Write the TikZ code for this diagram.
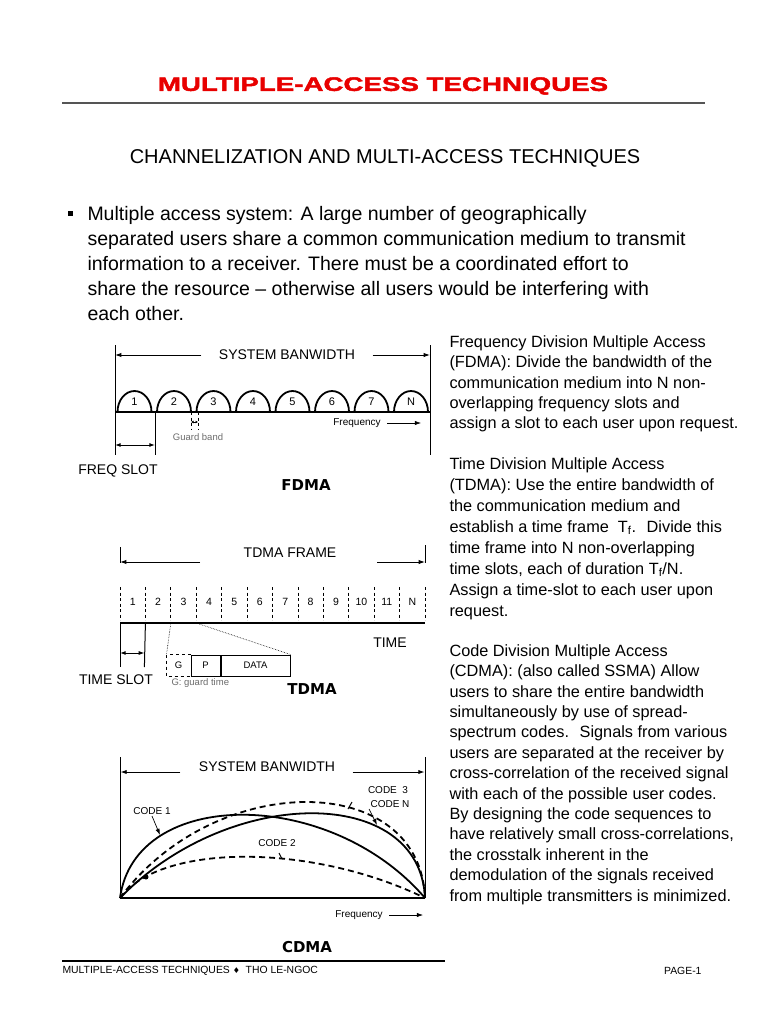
\documentclass[tikz,border=0pt]{standalone}
\usepackage{fontspec}
\setmainfont{Liberation Sans}
\newfontfamily\titlefont{Liberation Sans}[BoldFeatures={FakeStretch=1.42,FakeBold=2.2}]
\newfontfamily\capfont{DejaVu Sans}
\newfontfamily\symfont{DejaVu Sans}
\usetikzlibrary{arrows.meta, positioning, calc}
\definecolor{cred}{HTML}{E80000}
\definecolor{cgrey}{HTML}{6B6B6B}
\definecolor{cline}{HTML}{555555}
\tikzset{
  every picture/.style={line width=1pt},
  title/.style={font=\titlefont\bfseries\fontsize{19.5}{22}\selectfont, text=cred, inner sep=0pt},
  head/.style={font=\fontsize{20}{24}\selectfont, inner sep=0pt},
  para/.style={align=left, anchor=north west, inner sep=0pt},
  big/.style={para, font=\fontsize{19.5}{25}\selectfont},
  body/.style={para, font=\fontsize{16.3}{20.4}\selectfont},
  lbl/.style={font=\fontsize{14}{16}\selectfont, inner sep=1pt},
  small/.style={font=\fontsize{10}{12}\selectfont, inner sep=1pt},
  tiny/.style={font=\fontsize{9.5}{11}\selectfont, text=cgrey, inner sep=1pt},
  tag/.style={font=\capfont\bfseries\fontsize{15}{18}\selectfont, inner sep=0pt},
  cell/.style={draw, font=\fontsize{9.5}{11}\selectfont, minimum height=21pt, inner sep=0pt},
  arrow/.style={-{Latex[length=2.2mm, width=1.5mm]}, line width=0.9pt},
  dim/.style={{Latex[length=2mm, width=1.4mm]}-{Latex[length=2mm, width=1.4mm]}, line width=0.9pt},
  axis/.style={line width=1.8pt},
  hump/.style={line width=1.8pt},
  slotline/.style={line width=0.8pt, dash pattern=on 3pt off 2.5pt},
  code/.style={line width=1.8pt},
  codedash/.style={code, dash pattern=on 6pt off 4pt},
}

\begin{document}
\begin{tikzpicture}[x=1pt, y=-1pt]
  \useasboundingbox (0,0) rectangle (768,1024);

  % heading
  \node[title] (ttl) at (383,86) {MULTIPLE-ACCESS TECHNIQUES};
  \coordinate (rl) at (62,103);
  \coordinate (rr) at (705,103);
  \draw[cline, line width=1.5pt] (rl) -- (rr);
  \node[head] (sub) at (385,158) {CHANNELIZATION AND MULTI-ACCESS TECHNIQUES};

  % intro
  \node[fill=black, minimum size=5pt, inner sep=0pt] (bul) at (70,214) {};
  \node[big] (intro) at (87,206) {Multiple access system: A large number of geographically\\
    separated users share a common communication medium to transmit\\
    information to a receiver. There must be a coordinated effort to\\
    share the resource – otherwise all users would be interfering with\\
    each other.};

  % text column
  \node[body] (tfd) at (449,335) {Frequency Division Multiple Access\\
    (FDMA): Divide the bandwidth of the\\
    communication medium into N non-\\
    overlapping frequency slots and\\
    assign a slot to each user upon request.};
  \node[body, font=\fontsize{16.3}{21}\selectfont] (ttd) at (449,457) {Time Division Multiple Access\\
    (TDMA): Use the entire bandwidth of\\
    the communication medium and\\
    establish a time frame \ T\textsubscript{f}. \ Divide this\\
    time frame into N non-overlapping\\
    time slots, each of duration T\textsubscript{f}/N.\\
    Assign a time-slot to each user upon\\
    request.};
  \node[body] (tcd) at (449,644) {Code Division Multiple Access\\
    (CDMA): (also called SSMA) Allow\\
    users to share the entire bandwidth\\
    simultaneously by use of spread-\\
    spectrum codes. \ Signals from various\\
    users are separated at the receiver by\\
    cross-correlation of the received signal\\
    with each of the possible user codes.\\
    By designing the code sequences to\\
    have relatively small cross-correlations,\\
    the crosstalk inherent in the\\
    demodulation of the signals received\\
    from multiple transmitters is minimized.};

  % fdma
  \coordinate (fa) at (115,345);
  \coordinate (fc) at (430,345);
  \coordinate (f0) at (115,412);
  \coordinate (f1) at (430,412);
  \draw (fa) -- (115,455);
  \draw (fc) -- (430,455);
  \node[lbl] (fbw) at (287,355) {SYSTEM BANWIDTH};
  \draw[arrow] ([xshift=-16pt]fbw.west) -- (fbw -| fa);
  \draw[arrow] ([xshift=16pt]fbw.east) -- (fbw -| fc);
  \draw[axis] (f0) -- (f1);
  \foreach \n [count=\i] in {1,2,3,4,5,6,7,N} {
    \pgfmathsetmacro{\x}{134.5+39.5*(\i-1)}
    \draw[hump] (\x-17,412) arc[start angle=180, end angle=0, x radius=17pt, y radius=21pt];
    \node[small, font=\fontsize{11}{12}\selectfont] (h\i) at (\x,402) {\n};
  }
  \coordinate (ga) at (191,412);
  \coordinate (gb) at (198,412);
  \draw[slotline, line width=0.6pt] (ga) -- ++(0,18);
  \draw[slotline, line width=0.6pt] (gb) -- ++(0,18);
  \draw[{Latex[length=2.5pt, width=3pt]}-{Latex[length=2.5pt, width=3pt]}, line width=0.6pt] ($(ga)+(0,10)$) -- ($(gb)+(0,10)$);
  \node[tiny] (gband) at (198,437) {Guard band};
  \node[small] (ffr) at (357,423) {Frequency};
  \draw[arrow, line width=0.7pt] ([xshift=5pt]ffr.east) -- ++(34,0);
  \coordinate (fs) at (155,412);
  \draw (fs) -- (155,455);
  \draw[dim] (115,445) -- (fs |- 0,445);
  \node[lbl] (fslot) at (118,471) {FREQ SLOT};
  \node[tag] (fdma) at (306,485) {FDMA};

  % tdma
  \coordinate (tl) at (120,547);
  \coordinate (tr) at (425,545);
  \coordinate (ta) at (200,562);
  \coordinate (tb) at (377,562);
  \draw (tl) -- (120,563);
  \draw (tr) -- (425,563);
  \node[lbl] (tfr) at (290,553) {TDMA FRAME};
  \draw[arrow] (ta) -- (ta -| tl);
  \draw[arrow] (tb) -- (tb -| tr);
  \foreach \n [count=\i] in {1,2,3,4,5,6,7,8,9,10,11,N} {
    \pgfmathsetmacro{\x}{120+25.417*(\i-1)}
    \coordinate (s\i) at (\x,623);
    \draw[slotline] (\x,587) -- (\x,620);
    \node[small, font=\fontsize{10.5}{12}\selectfont] (n\i) at (\x+12.7,602) {\n};
  }
  \coordinate (s13) at (425,623);
  \draw[slotline] (425,587) -- (425,620);
  \draw[axis] (s1) -- (s13);
  \node[lbl] (ttime) at (390,643) {TIME};
  \draw (s1) -- (120,667);
  \draw (s2) -- (144.4,667);
  \draw[dim] (120,653) -- (144.4,653);
  \node[lbl] (tslot) at (116,680) {TIME SLOT};
  \node[cell, minimum width=69pt] (dat) at (255.5,665.5) {DATA};
  \node[cell, minimum width=29pt, left=0pt of dat] (pp) {P};
  \node[cell, draw=none, minimum width=23pt, left=0pt of pp] (gg) {G};
  \draw[dashed, line width=0.8pt] (gg.north east) -- (gg.north west) -- (gg.south west) -- (gg.south east);
  \draw[densely dotted, line width=0.6pt] (s3) -- (gg.north west);
  \draw[densely dotted, line width=0.6pt] (s4) -- (dat.north east);
  \node[tiny, anchor=west] (gt) at (170,683) {G: guard time};
  \node[tag] (tdma) at (312,689) {TDMA};

  % cdma
  \coordinate (c0) at (120,898);
  \coordinate (c1) at (425,898);
  \draw (c0) -- (120,757);
  \draw (c1) -- (425,757);
  \draw[axis] (c0) -- (c1);
  \node[lbl] (cbw) at (267,767) {SYSTEM BANWIDTH};
  \draw[arrow] ([xshift=-17pt, yshift=-5pt]cbw.west) -- ++(-60,0);
  \draw[arrow] ([xshift=16pt, yshift=-5pt]cbw.east) -- ++(72,0);
  \draw[code] (c0) .. controls (135,787) and (330,787) .. (c1);
  \draw[code] (c0) .. controls (230,785) and (420,785) .. (c1);
  \draw[codedash] (c0) .. controls (215,770) and (420,770) .. (c1);
  \draw[codedash] (c0) .. controls (160,843) and (312,843) .. (c1);
  \fill (146,877) circle[radius=2.5pt];
  \node[small] (k1) at (152,811) {CODE 1};
  \draw[arrow, line width=0.7pt] (k1.south) -- (160,835);
  \node[small] (k2) at (277,843) {CODE 2};
  \draw[line width=1pt] (279,853) -- (282,859);
  \node[small] (k3) at (388,790) {CODE \ 3};
  \node[small] (kn) at (390,804) {CODE N};
  \draw[line width=1pt] (352,802) -- (348,809);
  \draw[arrow, line width=0.7pt] (kn.south west) -- (377,825);
  \node[small] (cfr) at (359,915) {Frequency};
  \draw[arrow, line width=0.7pt] ([xshift=5pt]cfr.east) -- ++(34,0);
  \node[tag] (cdma) at (307,947) {CDMA};

  % footer
  \coordinate (fl) at (62,961);
  \coordinate (fr) at (445,961);
  \draw[line width=1.2pt] (fl) -- (fr);
  \node[anchor=west, inner sep=0pt, font=\fontsize{10.4}{12}\selectfont] (foot) at (62,971) {MULTIPLE-ACCESS TECHNIQUES {\symfont\fontsize{8}{8}\selectfont ♦}\ \ THO LE-NGOC};
  \node[anchor=east, inner sep=0pt, font=\fontsize{10.4}{12}\selectfont] (pg) at (702,971) {PAGE-1};
\end{tikzpicture}
\end{document}
